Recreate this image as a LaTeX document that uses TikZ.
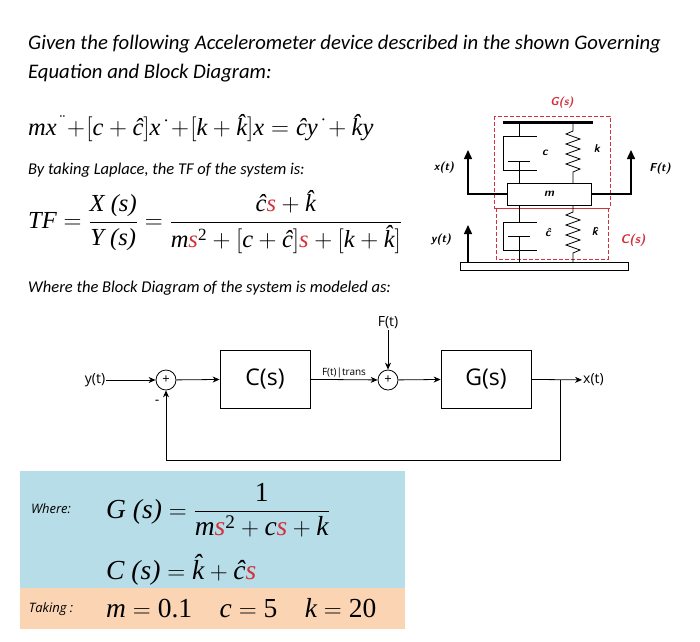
\documentclass[tikz,border=0pt]{standalone}
\usepackage{amsmath}
\usepackage{fontspec}
\setmainfont{Carlito}
\newfontfamily\tm{Liberation Serif}
\newfontfamily\osans{Open Sans}
\usetikzlibrary{arrows.meta}
\definecolor{rd}{RGB}{210,50,60}
\definecolor{bl}{RGB}{183,221,232}
\definecolor{org}{RGB}{251,212,180}
\newcommand{\E}[1]{\text{\tm\itshape #1}}
\newcommand{\R}[1]{\text{\tm #1}}
\newcommand{\Rs}{\textcolor{rd}{\E{s}}}
\tikzset{txt/.style={font=\fontsize{20.7}{24}\selectfont\itshape,anchor=west,inner sep=0},
 stxt/.style={font=\fontsize{16.5}{19}\selectfont\itshape,anchor=west,inner sep=0},
 eq/.style={anchor=west,inner sep=0,font=\fontsize{24.5}{29}\selectfont},
 eqb/.style={anchor=west,inner sep=0,font=\fontsize{27.5}{32}\selectfont},
 blk/.style={draw,thick,minimum width=90pt,minimum height=58pt,font=\osans\fontsize{23}{27}\selectfont},
 sm/.style={draw,thick,circle,minimum size=20pt,inner sep=0,font=\osans\fontsize{13}{15}\selectfont},
 lab/.style={font=\osans\fontsize{14}{16}\selectfont,inner sep=1pt},
 ar/.style={thick,-{Stealth[length=7pt,width=6pt]}},
 rdash/.style={rd,thick,dash pattern=on 4pt off 2pt},
 mlab/.style={font=\sffamily\bfseries\itshape\fontsize{11.5}{13}\selectfont,inner sep=0},
 big/.style={line width=1.5pt,-{Triangle[length=9pt,width=8pt]}}}
\begin{document}
\begin{tikzpicture}[x=1pt,y=-1pt]
\useasboundingbox (0,0) rectangle (700,641);
% text
\node[txt] (t1) at (28,44) {Given the following Accelerometer device described in the shown Governing};
\node[txt] (t2) at (28,73) {Equation and Block Diagram:};
\node[eq] (e1) at (28,128) {$\E{mx}^{\,\R{¨}}\!+\![\E{c}+\E{ĉ}]\E{x}^{\,\R{·}}\!+\![\E{k}+\E{k̂}]\E{x}=\E{ĉy}^{\,\R{·}}\!+\E{k̂y}$};
\node[stxt] (t3) at (28,170) {By taking Laplace, the TF of the system is:};
\node[eq] (e2) at (28,222) {$\E{TF}=\dfrac{\E{X (s)}}{\E{Y (s)}}=\dfrac{\E{ĉ}\Rs+\E{k̂}}{\E{m}\Rs^{\R{2}}+[\E{c}+\E{ĉ}]\Rs+[\E{k}+\E{k̂}]}$};
\node[stxt] (t4) at (28,288) {Where the Block Diagram of the system is modeled as:};
% mechanical
\node[mlab,rd] (gl) at (562,103) {G(s)};
\draw[rdash] (494,116) rectangle (610,208);
\draw[rdash] (496,208) rectangle (608,259);
\node[mlab,rd,font=\sffamily\bfseries\itshape\fontsize{12.5}{14}\selectfont] (cl) at (633,240) {C(s)};
\draw[line width=3pt] (503,122) -- (593,122);
\node[draw,thick,fill=white,minimum width=84pt,minimum height=22pt,inner sep=0] (m) at (549,194) {};
\node[mlab] at (m) {m};
\draw[draw,thick,fill=white] (460,262) rectangle (628,270);
% upper damper
\draw[thick] (519,122) -- (519,136) (537,136) -- (503,136) -- (503,170) -- (537,170);
\draw[thick] (508,161) -- (530,161) (519,161) -- (519,183);
% upper spring
\draw[thick] (573,122) -- (573,131) -- (566,134) -- (580,139) -- (566,144) -- (580,149) -- (566,154) -- (580,159) -- (566,164) -- (580,169) -- (573,172) -- (573,183);
% lower damper
\draw[thick] (519,205) -- (519,222) (537,222) -- (503,222) -- (503,250) -- (537,250);
\draw[thick] (508,236) -- (530,236) (519,236) -- (519,262);
% lower spring
\draw[thick] (573,205) -- (573,212) -- (566,215) -- (580,220) -- (566,225) -- (580,230) -- (566,235) -- (580,240) -- (566,245) -- (580,250) -- (573,253) -- (573,262);
\node[mlab] at (545,153) {c};
\node[mlab] at (597,149) {k};
\node[mlab] at (548,233) {ĉ};
\node[mlab] at (595,231) {k̂};
\coordinate (xa) at (468,150);
\coordinate (fa) at (631,150);
\coordinate (ya) at (468,225);
\draw[big] (m.west) -| (xa);
\draw[big] (m.east) -| (fa);
\draw[big] (468,262) -- (ya);
\node[mlab] at (444,168) {x(t)};
\node[mlab] at (660,169) {F(t)};
\node[mlab] at (441,240) {y(t)};
% block diagram
\node[lab] (y) at (95,380) {y(t)};
\node[sm] (s1) at (166,380) {+};
\node[blk] (C) at (265,379) {C(s)};
\node[sm] (s2) at (388,380) {+};
\node[lab] (F) at (388,323) {F(t)};
\node[blk] (G) at (486,379) {G(s)};
\node[lab,anchor=west] (x) at (582,380) {x(t)};
\coordinate (br) at (560,380);
\draw[ar] (y) -- (s1);
\draw[ar] (s1) -- (C);
\draw[ar] (C) -- node[lab,above,font=\osans\fontsize{10}{12}\selectfont] {F(t)|trans} (s2);
\draw[ar] (F) -- (s2);
\draw[ar] (s2) -- (G);
\draw[ar] (G) -- (x);
\draw[ar] (br) |- (166,460) -- (s1);
\node[lab] at (157,402) {-};
% table
\fill[bl] (20,471) rectangle (405,588);
\fill[org] (20,588) rectangle (405,629);
\node[lab,font=\osans\itshape\fontsize{13}{15}\selectfont] at (51,509) {Where:};
\node[lab,font=\osans\itshape\fontsize{13}{15}\selectfont] at (51,609) {Taking :};
\node[eqb] (g) at (106,510) {$\E{G (s)}=\dfrac{\R{1}}{\E{m}\Rs^{\R{2}}+\E{c}\Rs+\E{k}}$};
\node[eqb] (cc) at (106,570) {$\E{C (s)}=\E{k̂}+\E{ĉ}\Rs$};
\node[eqb] (tk) at (106,608) {$\E{m}=\R{0.1}\quad\E{c}=\R{5}\quad\E{k}=\R{20}$};
\end{tikzpicture}
\end{document}
